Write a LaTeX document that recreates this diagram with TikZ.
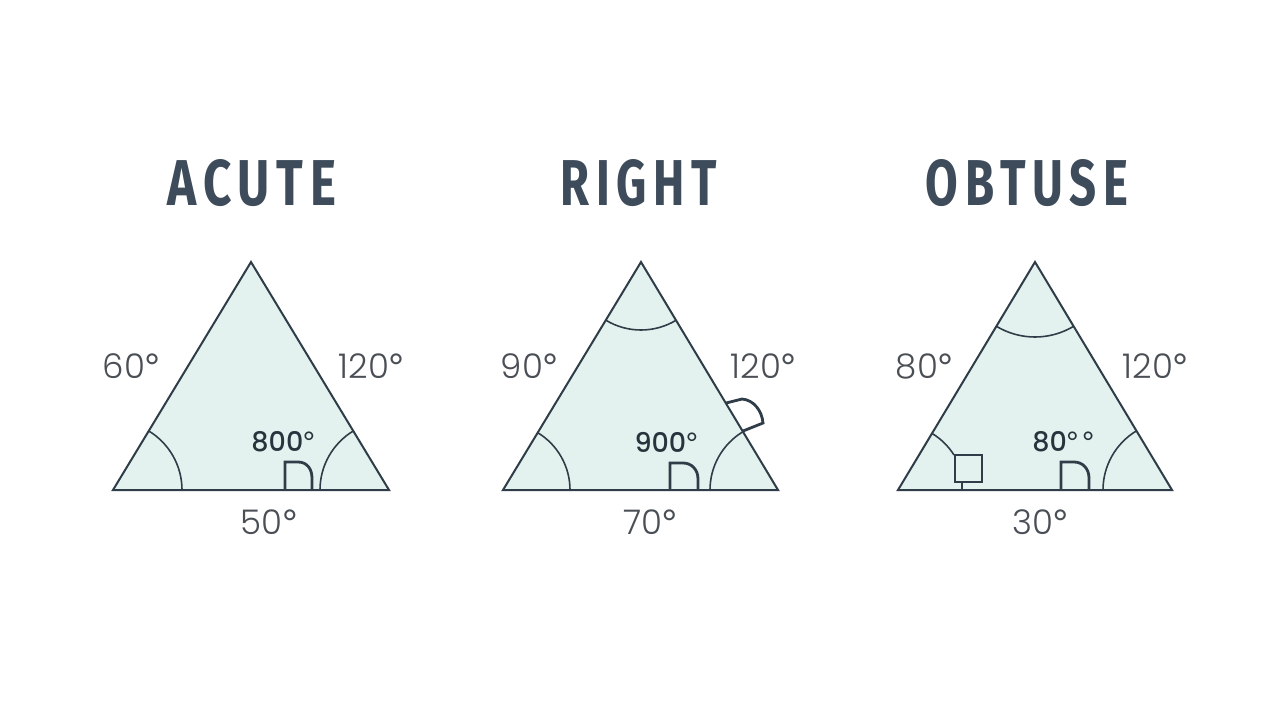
\documentclass[tikz,border=0pt]{standalone}
\usepackage{fontspec}
\usepackage{graphicx}
\setmainfont{Poppins}
\newfontfamily\labfont{Poppins Light}
\newfontfamily\midfont{Poppins Medium}
\newfontfamily\degfont{Lato}
\newfontfamily\titlefont[LetterSpace=14]{Fira Sans}
\newcommand{\dg}{{\degfont °}}
\usetikzlibrary{calc}
\definecolor{ink}{HTML}{2F3D48}
\definecolor{fillc}{HTML}{E4F2EF}
\definecolor{labc}{HTML}{4A4F55}
\definecolor{titc}{HTML}{3D4B5B}
\tikzset{
  tri/.style={draw=ink, fill=fillc, line width=2pt, line join=miter},
  angarc/.style={draw=ink, line width=1.6pt},
  tickmark/.style={draw=ink, line width=2.8pt, line join=miter},
  lab/.style={inner sep=0pt, text=labc, font=\labfont\fontsize{34}{34}\selectfont},
  midlab/.style={inner sep=0pt, text=ink!85!black, font=\midfont\fontsize{27}{27}\selectfont},
  title/.style={inner sep=0pt, text=titc}
}
\begin{document}
\begin{tikzpicture}[x=1pt,y=-1pt]
\useasboundingbox[fill=white] (0,0) rectangle (1280,720);

% titles
\node[title] (tA) at (252,183) {\resizebox{169pt}{46pt}{\titlefont\bfseries ACUTE}};
\node[title] (tR) at (639,183) {\resizebox{156pt}{46pt}{\titlefont\bfseries RIGHT}};
\node[title] (tO) at (1027,183) {\resizebox{202pt}{46pt}{\titlefont\bfseries OBTUSE}};

% ---------- acute ----------
\coordinate (a1) at (251,262);
\coordinate (b1) at (113,490);
\coordinate (c1) at (389,490);
\draw[tri] (a1) -- (b1) -- (c1) -- cycle;
\draw[angarc] (b1) ++(0:69) arc[start angle=0, end angle=-58.8, radius=69];
\draw[angarc] (c1) ++(-180:69) arc[start angle=-180, end angle=-121.2, radius=69];
\draw[tickmark] (285,490) -- (285,462) -- (298,462) .. controls (307,462) and (312,469) .. (312,478) -- (312,490);
\node[lab] (l1a) at (131,366) {60\dg};
\node[lab] (l1b) at (371,366) {120\dg};
\node[midlab] (l1c) at (283,442) {800\dg};
\node[lab] (l1d) at (269,522) {50\dg};

% ---------- right ----------
\coordinate (a2) at (641,262);
\coordinate (b2) at (503,490);
\coordinate (c2) at (778,490);
\draw[tri] (a2) -- (b2) -- (c2) -- cycle;
\draw[angarc] (a2) ++(-238.8:68) arc[start angle=-238.8, end angle=-301.2, radius=68];
\draw[angarc] (b2) ++(0:67) arc[start angle=0, end angle=-58.8, radius=67];
\draw[angarc] (c2) ++(-180:68) arc[start angle=-180, end angle=-121.2, radius=68];
\draw[tickmark] (670,490) -- (670,463) -- (683,463) .. controls (692,463) and (698,470) .. (698,479) -- (698,490);
\draw[tickmark] (726,403) -- (742,399) .. controls (754,400) and (762,411) .. (763,423) -- (743,431);
\node[lab] (l2a) at (529,366) {90\dg};
\node[lab] (l2b) at (763,366) {120\dg};
\node[midlab] (l2c) at (666,442) {900\dg};
\node[lab] (l2d) at (650,522) {70\dg};

% ---------- obtuse ----------
\coordinate (a3) at (1035,262);
\coordinate (b3) at (898,490);
\coordinate (c3) at (1172,490);
\draw[tri] (a3) -- (b3) -- (c3) -- cycle;
\draw[angarc] (a3) ++(-238.8:75) arc[start angle=-238.8, end angle=-301.2, radius=75];
\draw[angarc] (b3) ++(-58.8:66) arc[start angle=-58.8, end angle=-32, radius=66];
\draw[angarc] (c3) ++(-180:69) arc[start angle=-180, end angle=-121.2, radius=69];
\draw[tickmark] (955,455) rectangle (982,482);
\draw[tickmark, line width=1.6pt] (962,482) -- (962,490);
\draw[tickmark] (1061,490) -- (1061,462) -- (1074,462) .. controls (1083,462) and (1089,469) .. (1089,478) -- (1089,490);
\node[lab] (l3a) at (924,366) {80\dg};
\node[lab] (l3b) at (1155,366) {120\dg};
\node[midlab] (l3c) at (1063,442) {80\dg\,\dg};
\node[lab] (l3d) at (1040,522) {30\dg};
\end{tikzpicture}
\end{document}
